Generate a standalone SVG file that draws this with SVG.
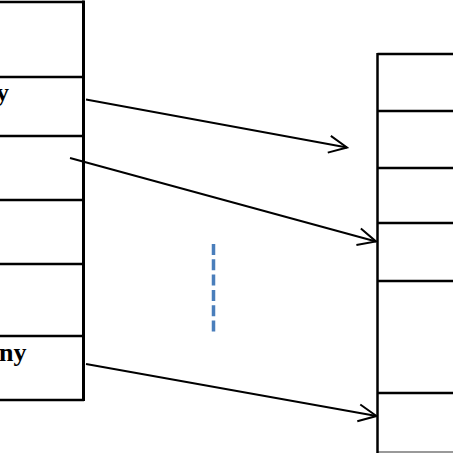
<svg xmlns="http://www.w3.org/2000/svg" width="453" height="453" viewBox="0 0 453 453">
  <style>
    .tbl { stroke: #000; stroke-width: 2.5; fill: none; }
    .edge { stroke: #000; stroke-width: 3; fill: none; }
    .conn { stroke: #000; stroke-width: 1.9; fill: none; }
    .lbl { font-family: "Liberation Serif", "Times New Roman", serif; font-weight: bold; font-size: 26px; fill: #000; }
  </style>
  <defs>
    <marker id="arr" viewBox="-20 -10 22 20" markerWidth="22" markerHeight="20" refX="0" refY="0" markerUnits="userSpaceOnUse" orient="auto">
      <path d="M-18,-8.5 L0,0 L-18,8.5" stroke="#000" stroke-width="2" fill="none"/>
    </marker>
  </defs>
  <rect width="453" height="453" fill="#fff"/>
  <g id="left-table">
    <line class="tbl" x1="0" y1="2" x2="84" y2="2"/>
    <line class="tbl" x1="0" y1="77" x2="84" y2="77"/>
    <line class="tbl" x1="0" y1="136" x2="84" y2="136"/>
    <line class="tbl" x1="0" y1="200" x2="84" y2="200"/>
    <line class="tbl" x1="0" y1="264" x2="84" y2="264"/>
    <line class="tbl" x1="0" y1="336" x2="84" y2="336"/>
    <line class="tbl" x1="0" y1="400" x2="84" y2="400"/>
    <line class="edge" x1="83.5" y1="0.5" x2="83.5" y2="401"/>
    <text class="lbl" x="-4" y="101">y</text>
    <text class="lbl" x="-1" y="361">ny</text>
  </g>
  <g id="right-table">
    <line class="tbl" x1="377.5" y1="54" x2="453" y2="54"/>
    <line class="tbl" x1="377.5" y1="111" x2="453" y2="111"/>
    <line class="tbl" x1="377.5" y1="168" x2="453" y2="168"/>
    <line class="tbl" x1="377.5" y1="223" x2="453" y2="223"/>
    <line class="tbl" x1="377.5" y1="281" x2="453" y2="281"/>
    <line class="tbl" x1="377.5" y1="393" x2="453" y2="393"/>
    <line x1="377.5" y1="452" x2="453" y2="452" stroke="#999" stroke-width="2"/>
    <line class="tbl" x1="377.5" y1="53" x2="377.5" y2="453"/>
  </g>
  <g id="connectors">
    <line class="conn" x1="86" y1="99.5" x2="347" y2="147.5" marker-end="url(#arr)"/>
    <line class="conn" x1="70" y1="158" x2="376" y2="241.5" marker-end="url(#arr)"/>
    <line class="conn" x1="86" y1="364" x2="376.5" y2="416" marker-end="url(#arr)"/>
    <line x1="213.5" y1="244" x2="213.5" y2="332" stroke="#4a7ebb" stroke-width="3.5" stroke-dasharray="11 4.3"/>
  </g>
</svg>
